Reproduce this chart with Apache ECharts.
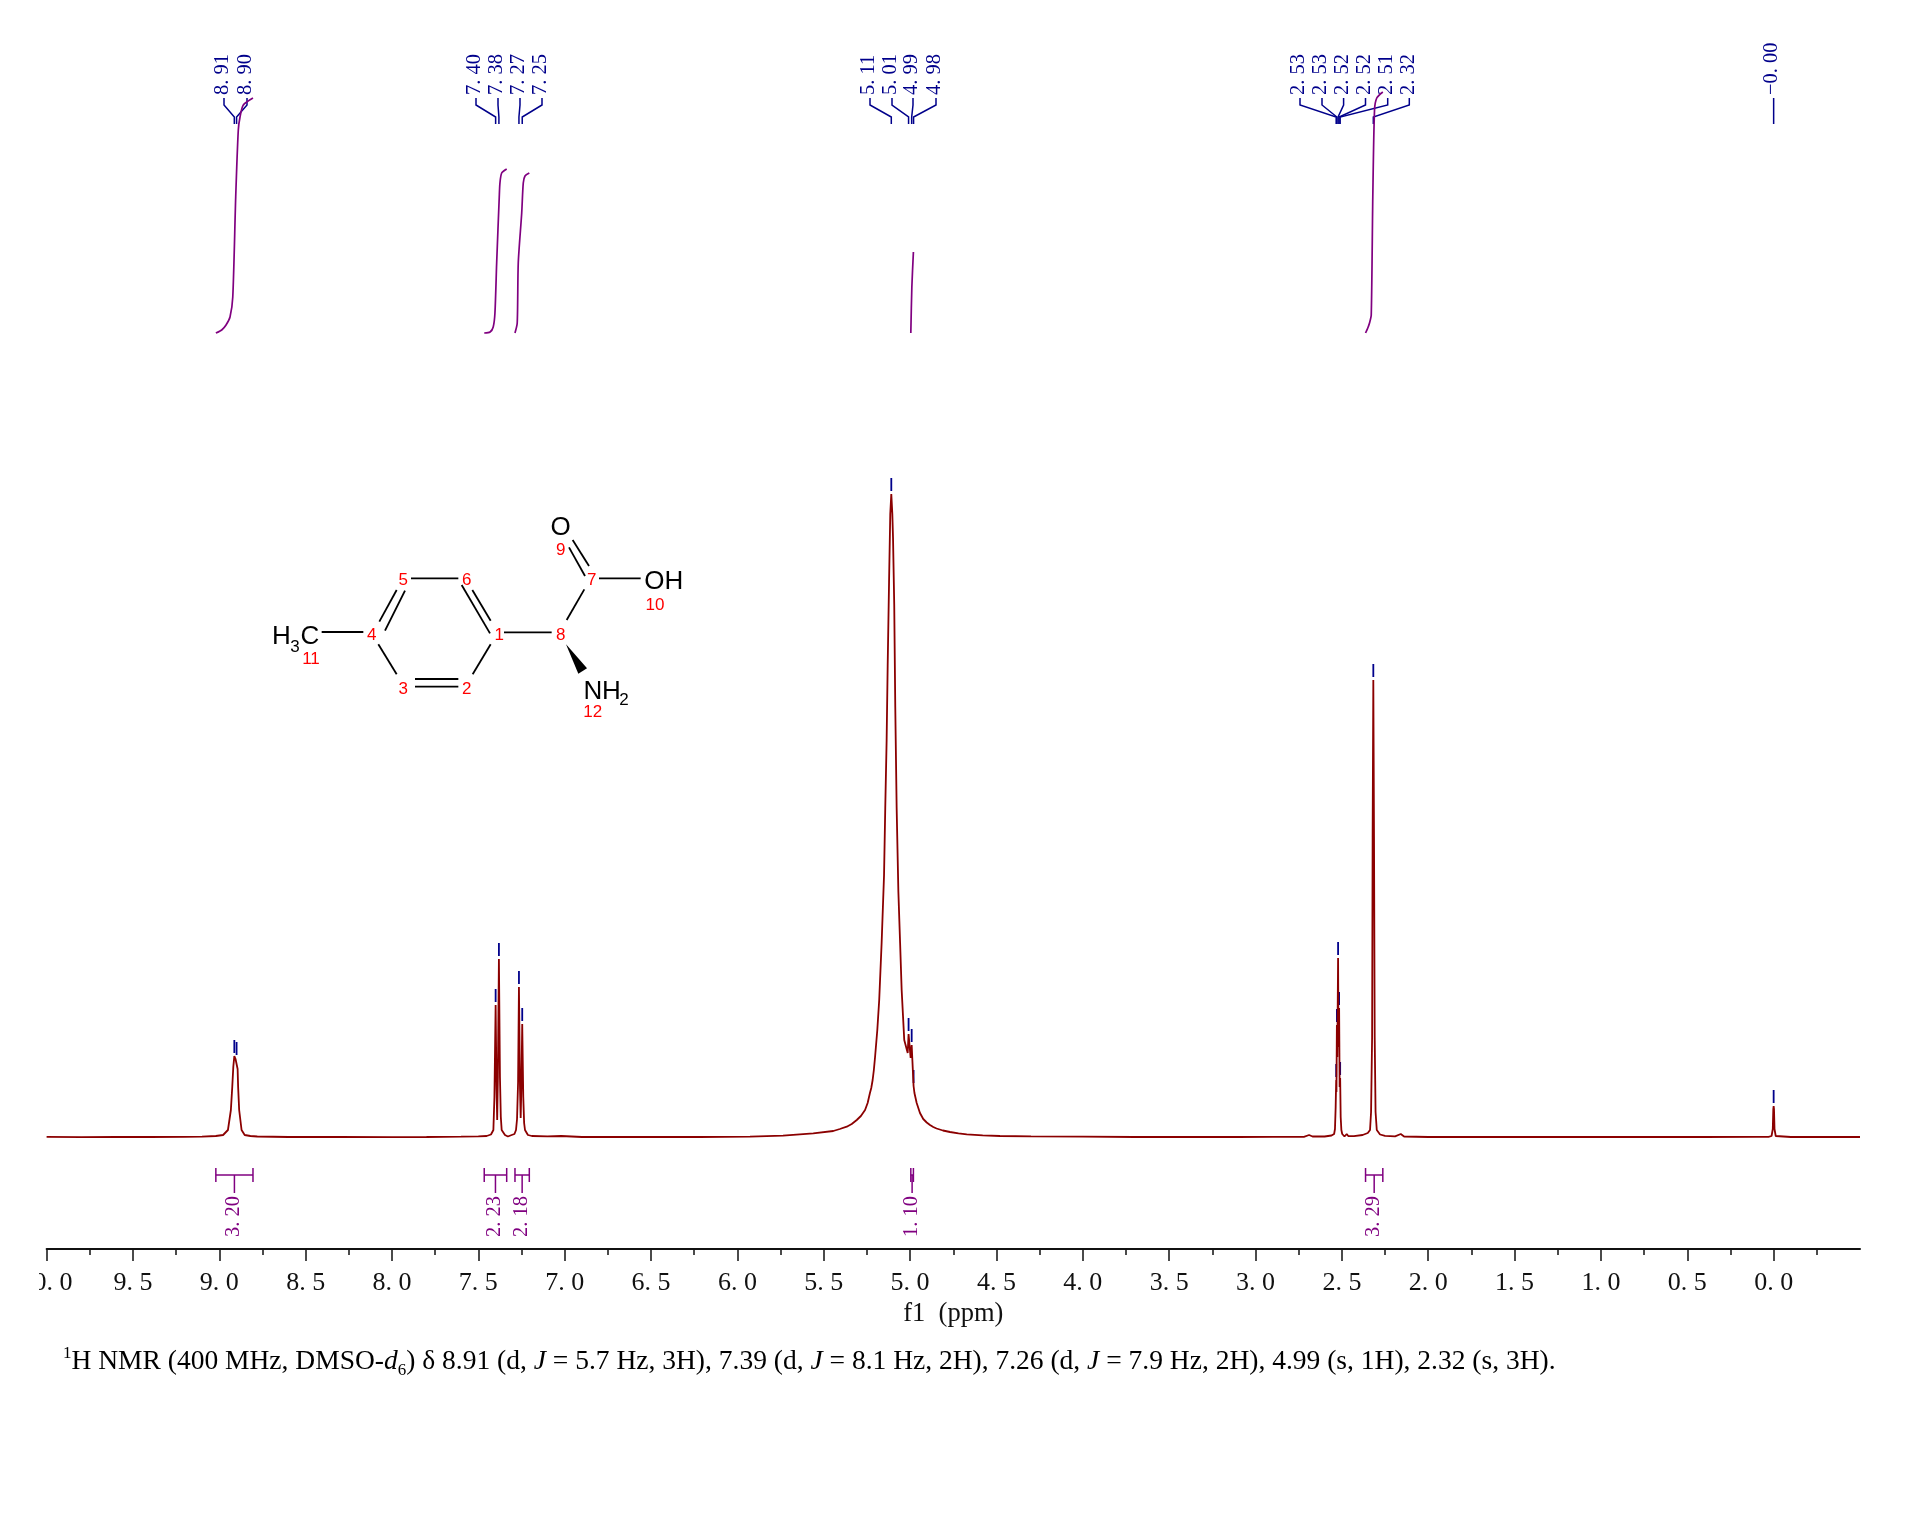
<!DOCTYPE html>
<html>
<head>
<meta charset="utf-8">
<style>html,body{margin:0;padding:0;background:#fff}#c{width:1912px;height:1528px}</style>
<script src="https://cdn.jsdelivr.net/npm/echarts@6/dist/echarts.min.js"></script>
</head>
<body>
<div id="c"></div>
<script>
// ---- data: [ppm, intensity] ----
const baselineLow = [[10,0.2],[9.8,-0.2],[9.6,0.1],[9.4,0],[9.2,0.2],[9.1,0.4],[9.02,1]];
const peak891 = [[8.978,2],[8.95,7],[8.933,27],[8.925,50],[8.919,70],[8.913,81],[8.906,78],[8.9,79],[8.894,68],[8.891,50],[8.885,27],[8.871,7],[8.853,2],[8.82,1],[8.78,0.5]];
const baselineA = [[8.6,0],[8.3,0.2],[8,-0.2],[7.8,0],[7.6,0.3],[7.5,0.6]];
const peak739 = [[7.452,1],[7.427,2.5],[7.413,7],[7.407,40],[7.4,132],[7.395,50],[7.391,17],[7.387,60],[7.381,178],[7.375,60],[7.37,20],[7.365,7],[7.346,2],[7.329,0.5]];
const peak726 = [[7.307,2],[7.291,3],[7.282,7],[7.276,18],[7.27,55],[7.265,150],[7.259,50],[7.255,19],[7.251,50],[7.246,113],[7.24,40],[7.235,14],[7.23,7],[7.213,2],[7.19,1]];
const baselineB = [[7.1,0.6],[7.02,1],[6.9,0],[6.6,0.2]];
const peakWater = [[6.217,0],[5.927,0.3],[5.736,1.3],[5.561,3.7],[5.445,6],[5.407,8],[5.367,10.3],[5.338,13],[5.309,17],[5.285,21],[5.261,27],[5.246,34],[5.233,43.7],[5.225,49],[5.217,57],[5.21,67],[5.203,80],[5.19,107],[5.179,137],[5.165,194],[5.151,262],[5.144,329],[5.136,397],[5.13,471],[5.122,555],[5.115,623],[5.109,643],[5.103,623],[5.099,599],[5.092,532],[5.086,430],[5.078,329],[5.068,245],[5.058,194],[5.049,147],[5.046,137],[5.034,97],[5.014,84],[5.009,103],[4.997,79],[4.991,92],[4.98,51],[4.975,44],[4.962,34],[4.943,24],[4.924,18],[4.904,14.5],[4.885,12],[4.866,10],[4.847,8.5],[4.81,6.5],[4.769,5],[4.72,3.7],[4.672,2.7],[4.58,1.7],[4.48,1]];
const baselineC = [[4.3,0.6],[4,0.3],[3.7,0],[3.4,0.2],[3.1,0],[2.9,0.2],[2.72,0.2],[2.69,2],[2.67,0.5],[2.6,0.5],[2.56,1.5]];
const peakDmso = [[2.545,3],[2.54,8],[2.536,30],[2.533,57],[2.5315,45],[2.529,112],[2.5265,80],[2.522,179],[2.5195,90],[2.516,129],[2.513,50],[2.51,59],[2.507,20],[2.503,7],[2.498,3],[2.493,1],[2.485,0.5],[2.472,3],[2.462,0.8],[2.43,0.8],[2.38,2],[2.35,4]];
const peakMethyl = [[2.337,7],[2.331,25],[2.325,100],[2.322,300],[2.318,457],[2.314,300],[2.31,100],[2.305,25],[2.298,7],[2.279,2.5],[2.25,1.2],[2.192,0.7],[2.159,3],[2.14,0.5]];
const baselineD = [[2,0],[1.8,0.2],[1.5,0],[1.2,0.2],[1,0],[0.7,0.2],[0.4,0],[0.1,0.1],[0.03,0.2]];
const peakTms = [[0.012,1],[0.005,8],[0.002,28],[0,31],[-0.002,28],[-0.005,8],[-0.012,1],[-0.1,0],[-0.3,0.2],[-0.5,0]];

const integral1 = [[9.02,804],[8.986,807],[8.961,812],[8.938,820],[8.922,840],[8.905,940],[8.89,1007],[8.88,1020],[8.861,1032],[8.805,1039]];
const integral2 = [[7.466,804],[7.432,805],[7.414,810],[7.404,824],[7.394,874],[7.379,940],[7.375,954],[7.365,964],[7.336,968]];
const integral3 = [[7.288,804],[7.275,814],[7.269,874],[7.249,924],[7.24,954],[7.23,961],[7.205,964]];
const integral4 = [[4.996,804],[4.99,850],[4.981,885]];
const integral5 = [[2.363,804],[2.35,809],[2.34,814],[2.33,822],[2.321,940],[2.311,1027],[2.298,1039],[2.263,1045]];

const peakPpm = [8.913,8.9,7.4,7.381,7.265,7.246,5.109,5.009,4.991,4.98,2.533,2.529,2.522,2.516,2.51,2.318,0];
const peakHeights = [81,79,132,178,150,113,643,103,92,51,57,112,179,129,59,457,31];
const peakLabels = ['8. 91','8. 90','7. 40','7. 38','7. 27','7. 25','5. 11','5. 01','4. 99','4. 98','2. 53','2. 53','2. 52','2. 52','2. 51','2. 32','−0. 00'];

const integralFrom = [9.02,7.466,7.288,4.996,2.363];
const integralTo = [8.805,7.336,7.205,4.981,2.263];
const integralLabels = ['3. 20','2. 23','2. 18','1. 10','3. 29'];

const majorTicks = [0,0.5,1,1.5,2,2.5,3,3.5,4,4.5,5,5.5,6,6.5,7,7.5,8,8.5,9,9.5,10];
const minorTicks = [-0.25,0.25,0.75,1.25,1.75,2.25,2.75,3.25,3.75,4.25,4.75,5.25,5.75,6.25,6.75,7.25,7.75,8.25,8.75,9.25,9.75];

const spectrum = [].concat(baselineLow,peak891,baselineA,peak739,peak726,baselineB,peakWater,baselineC,peakDmso,peakMethyl,baselineD,peakTms);

// ---- layout and style ----
const LABEL_X = [224,247,476,498,520,542,870,892,913,936,1300,1322,1343.6,1365.5,1387.7,1409.3,1773];
const NAVY = '#00008b', PURPLE = '#800080', RED = '#8b0000';
const SERIF = '"Liberation Serif"', SANS = '"Liberation Sans"';

function renderPeak(params, api) {
  const i = params.dataIndex;
  const p = api.coord([api.value(0), api.value(1)]);
  const lx = LABEL_X[i];
  const straight = i === peakPpm.length - 1;
  const pts = straight ? [[p[0],98],[p[0],124]] : [[lx,98],[lx,105],[p[0],117],[p[0],124]];
  return {type:'group', silent:true, children:[
    {type:'line', shape:{x1:p[0],y1:p[1]-3,x2:p[0],y2:p[1]-16}, style:{stroke:NAVY,lineWidth:1.8}},
    {type:'polyline', shape:{points:pts}, style:{stroke:NAVY,lineWidth:1.5,fill:'none'}},
    {type:'text', x:lx-1, y:95, rotation:Math.PI/2,
     style:{text:peakLabels[i],fontFamily:SERIF,fontSize:20.5,fill:NAVY,align:'left',verticalAlign:'middle'}}
  ]};
}
function renderIntegral(params, api) {
  const i = params.dataIndex;
  const a = api.coord([api.value(0),0])[0], b = api.coord([api.value(1),0])[0];
  const c = (a+b)/2;
  return {type:'group', silent:true, children:[
    {type:'line', shape:{x1:a,y1:1168,x2:a,y2:1182}, style:{stroke:PURPLE,lineWidth:1.5}},
    {type:'line', shape:{x1:b,y1:1168,x2:b,y2:1182}, style:{stroke:PURPLE,lineWidth:1.5}},
    {type:'line', shape:{x1:a,y1:1175,x2:b,y2:1175}, style:{stroke:PURPLE,lineWidth:1.5}},
    {type:'line', shape:{x1:c,y1:1175,x2:c,y2:1193}, style:{stroke:PURPLE,lineWidth:1.5}},
    {type:'text', x:c-1, y:1237, rotation:Math.PI/2,
     style:{text:integralLabels[i],fontFamily:SERIF,fontSize:20.5,fill:PURPLE,align:'left',verticalAlign:'middle'}}
  ]};
}

// molecule sketch: coordinates relative to its own box, scaled into place
const mx = x => 250 + x/3, my = y => 490 + y/3;
const bonds = [
  [215,426,340,426],[388,395,440,300],[405,422,465,302],[483,265,625,265],
  [635,285,720,430],[667,300,722,392],[762,427,905,427],[722,463,668,553],
  [495,567,625,567],[495,590,625,590],[440,553,385,463],[950,390,1003,298],
  [968,150,1017,228],[957,172,1005,258],[1047,265,1172,265]
];
const blackText = [['O',932,114,26],['OH',1241,276,26],['H',94,439,26],['3',135,472,17],['C',180,439,26],['N',1029,604,26],['H',1084,604,26],['2',1122,630,17]];
const redText = [['1',748,437],['2',650,598],['3',460,598],['4',365,437],['5',460,272],['6',650,272],['7',1025,272],['8',932,437],['9',932,180],['10',1215,345],['11',183,507],['12',1028,667]];

const graphicEls = [
  {type:'rect', z:100, silent:true, shape:{x:0,y:1256,width:39,height:50}, style:{fill:'#fff'}},
  {type:'polygon', silent:true, shape:{points:[[mx(948),my(463)],[mx(985),my(551)],[mx(1011),my(535)]]}, style:{fill:'#000'}},
  {type:'text', silent:true, x:63, y:1362,
   style:{text:'{sup|1}H NMR (400 MHz, DMSO-{it|d}{sub|6}) δ 8.91 (d, {it|J} = 5.7 Hz, 3H), 7.39 (d, {it|J} = 8.1 Hz, 2H), 7.26 (d, {it|J} = 7.9 Hz, 2H), 4.99 (s, 1H), 2.32 (s, 3H).',
     fontFamily:SERIF,fontSize:27.5,fill:'#000',align:'left',verticalAlign:'middle',lineHeight:34,
     rich:{
       sup:{fontFamily:SERIF,fontSize:17,fill:'#000',verticalAlign:'top',lineHeight:34},
       sub:{fontFamily:SERIF,fontSize:17,fill:'#000',verticalAlign:'bottom',lineHeight:34},
       it:{fontFamily:SERIF,fontSize:27.5,fontStyle:'italic',fill:'#000',lineHeight:34}
     }}}
];
bonds.forEach(b => graphicEls.push({type:'line',silent:true,shape:{x1:mx(b[0]),y1:my(b[1]),x2:mx(b[2]),y2:my(b[3])},style:{stroke:'#000',lineWidth:1.8}}));
blackText.forEach(t => graphicEls.push({type:'text',silent:true,x:mx(t[1]),y:my(t[2]),style:{text:t[0],fontFamily:SANS,fontSize:t[3],fill:'#000',align:'center',verticalAlign:'middle'}}));
redText.forEach(t => graphicEls.push({type:'text',silent:true,x:mx(t[1]),y:my(t[2]),style:{text:t[0],fontFamily:SANS,fontSize:17,fill:'#ff0000',align:'center',verticalAlign:'middle'}}));

function integralSeries(data){
  return {type:'line',data,showSymbol:false,symbol:'none',smooth:0.25,clip:false,silent:true,z:6,
    lineStyle:{color:PURPLE,width:1.7}};
}

const chart = echarts.init(document.getElementById('c'), null, {renderer:'canvas'});
chart.setOption({
  animation:false,
  backgroundColor:'#fff',
  tooltip:{show:false},
  grid:{left:46.6,right:52,top:0,bottom:279,containLabel:false},
  xAxis:[
    {type:'value',inverse:true,min:-0.5,max:10,position:'bottom',
     axisLine:{onZero:false,lineStyle:{color:'#111',width:2}},
     axisTick:{show:true,length:12,inside:false,customValues:majorTicks,lineStyle:{color:'#111',width:1.5}},
     axisLabel:{show:true,margin:21,customValues:majorTicks,showMinLabel:true,showMaxLabel:true,
       formatter:v => v.toFixed(1).replace('.', '. '),
       fontFamily:SERIF,fontSize:26,color:'#111'},
     splitLine:{show:false},
     name:'f1  (ppm)',nameLocation:'middle',nameGap:48,
     nameTextStyle:{fontFamily:SERIF,fontSize:26.5,color:'#111'}},
    {type:'value',inverse:true,min:-0.5,max:10,position:'bottom',
     axisLine:{show:false,onZero:false},
     axisTick:{show:true,length:6,customValues:minorTicks,lineStyle:{color:'#111',width:1.5}},
     axisLabel:{show:false},splitLine:{show:false}}
  ],
  yAxis:{type:'value',min:-112,max:1137,show:false,splitLine:{show:false}},
  graphic:{elements:graphicEls},
  series:[
    {type:'custom',renderItem:renderPeak,data:peakPpm.map((p,i)=>[p,peakHeights[i]]),clip:false,silent:true,z:3},
    {type:'custom',renderItem:renderIntegral,data:integralFrom.map((p,i)=>[p,integralTo[i]]),clip:false,silent:true,z:3},
    {type:'line',data:spectrum,showSymbol:false,symbol:'none',clip:false,silent:true,z:5,
     lineStyle:{color:RED,width:1.8}},
    integralSeries(integral1),integralSeries(integral2),integralSeries(integral3),integralSeries(integral4),integralSeries(integral5)
  ]
});
</script>
</body>
</html>
